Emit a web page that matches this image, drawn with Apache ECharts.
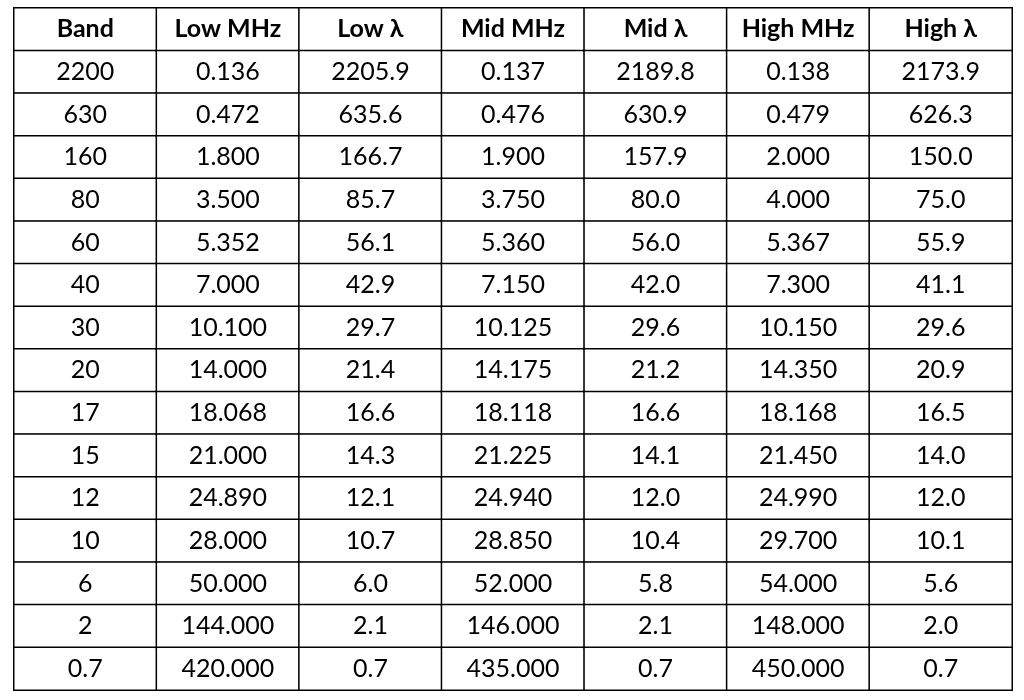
<!DOCTYPE html>
<html>
<head>
<meta charset="utf-8">
<script src="https://cdn.jsdelivr.net/npm/echarts@6/dist/echarts.min.js"></script>
<style>html,body{margin:0;background:#fff}#c{width:1024px;height:700px}</style>
</head>
<body>
<div id="c"></div>
<script>
var headers = ['Band', 'Low MHz', 'Low λ', 'Mid MHz', 'Mid λ', 'High MHz', 'High λ'];
var bands = ['2200', '630', '160', '80', '60', '40', '30', '20', '17', '15', '12', '10', '6', '2', '0.7'];
var lowMHz = ['0.136', '0.472', '1.800', '3.500', '5.352', '7.000', '10.100', '14.000', '18.068', '21.000', '24.890', '28.000', '50.000', '144.000', '420.000'];
var lowLambda = ['2205.9', '635.6', '166.7', '85.7', '56.1', '42.9', '29.7', '21.4', '16.6', '14.3', '12.1', '10.7', '6.0', '2.1', '0.7'];
var midMHz = ['0.137', '0.476', '1.900', '3.750', '5.360', '7.150', '10.125', '14.175', '18.118', '21.225', '24.940', '28.850', '52.000', '146.000', '435.000'];
var midLambda = ['2189.8', '630.9', '157.9', '80.0', '56.0', '42.0', '29.6', '21.2', '16.6', '14.1', '12.0', '10.4', '5.8', '2.1', '0.7'];
var highMHz = ['0.138', '0.479', '2.000', '4.000', '5.367', '7.300', '10.150', '14.350', '18.168', '21.450', '24.990', '29.700', '54.000', '148.000', '450.000'];
var highLambda = ['2173.9', '626.3', '150.0', '75.0', '55.9', '41.1', '29.6', '20.9', '16.5', '14.0', '12.0', '10.1', '5.6', '2.0', '0.7'];

var columns = [bands, lowMHz, lowLambda, midMHz, midLambda, highMHz, highLambda];
var rowIdx = [];
for (var r = 0; r <= bands.length; r++) rowIdx.push(String(r));

var cells = [];
for (var c = 0; c < headers.length; c++) {
  cells.push({ value: [c, 0, 0], text: headers[c], label: { fontWeight: 'bold' } });
  for (var i = 0; i < bands.length; i++) {
    cells.push({ value: [c, i + 1, 0], text: columns[c][i] });
  }
}

var chart = echarts.init(document.getElementById('c'));
chart.setOption({
  animation: false,
  backgroundColor: '#fff',
  grid: { left: 14, right: 12, top: 8, bottom: 10 },
  xAxis: { type: 'category', data: headers, show: false },
  yAxis: { type: 'category', data: rowIdx, inverse: true, show: false },
  visualMap: { show: false, min: 0, max: 1, inRange: { color: ['#ffffff', '#ffffff'] } },
  series: [{
    type: 'heatmap',
    data: cells,
    itemStyle: { borderColor: '#000', borderWidth: 1.5 },
    label: {
      show: true,
      color: '#000',
      fontFamily: 'Lato',
      fontSize: 25,
      formatter: function (p) { return p.data.text; }
    },
    emphasis: { disabled: true }
  }]
});
</script>
</body>
</html>
